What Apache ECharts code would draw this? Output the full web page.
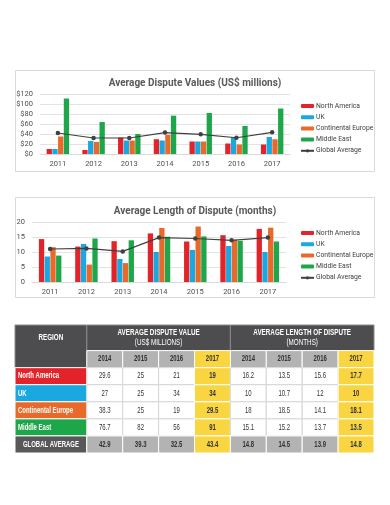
<!DOCTYPE html>
<html><head><meta charset="utf-8">
<script src="https://cdn.jsdelivr.net/npm/echarts@6/dist/echarts.min.js"></script>
<style>html,body{margin:0;padding:0;background:#fff;}#c{width:390px;height:505px;}</style>
</head><body><div id="c"></div>
<script>
// ---- data ----
const years = ['2011','2012','2013','2014','2015','2016','2017'];
const seriesNames = ['North America','UK','Continental Europe','Middle East','Global Average'];
// Average dispute value (US$ millions)
const valNA = [10, 8, 33, 29.6, 25, 21, 19];
const valUK = [10, 26, 27, 27, 25, 34, 34];
const valCE = [35, 24, 27, 38.3, 25, 19, 29.5];
const valME = [111, 64, 40, 76.7, 82, 56, 91];
const valGA = [42, 32, 32, 42.9, 39.3, 32.5, 43.4];
// Average length of dispute (months)
const lenNA = [14.3, 11.8, 13.6, 16.2, 13.5, 15.6, 17.7];
const lenUK = [8.5, 12.7, 7.7, 10, 10.7, 12, 10];
const lenCE = [11.6, 5.8, 6.3, 18, 18.5, 14.1, 18.1];
const lenME = [8.8, 14.5, 13.9, 15.1, 15.2, 13.7, 13.5];
const lenGA = [11, 11.2, 10.2, 14.8, 14.5, 13.9, 14.8];
// value axis ticks
const valTicks = [0, 20, 40, 60, 80, 100, 120];
const lenTicks = [0, 5, 10, 15, 20];
// table
const tableYears = ['2014','2015','2016','2017'];
const tableRegions = ['North America','UK','Continental Europe','Middle East'];
const tableHeader = ['REGION','AVERAGE DISPUTE VALUE','(US$ MILLIONS)','AVERAGE LENGTH OF DISPUTE','(MONTHS)'];
const globalLabel = 'GLOBAL AVERAGE';

// ---- styling ----
const colors = ['#e3232a','#1aa8e0','#e8692a','#1ea64a','#404040'];
const FONT = 'Roboto, "Liberation Sans", sans-serif';
const TFONT = '"Liberation Sans", Roboto, sans-serif';

function barSeries(name, data, gi, color){
  return {type:'bar', name, data, xAxisIndex:gi, yAxisIndex:gi, barWidth:5.3, barGap:'8%',
    itemStyle:{color}, emphasis:{disabled:true}};
}
function lineSeries(name, data, gi){
  return {type:'line', name, data, xAxisIndex:gi, yAxisIndex:gi, symbol:'circle', symbolSize:4.5,
    lineStyle:{color:'#404040', width:1.2}, itemStyle:{color:'#404040'}, z:5, emphasis:{disabled:true}};
}

// ---- table cells (built from the arrays) ----
// columns: region 0-2, value years 2-6, length years 6-10 ; rows: header 0-1.5, years 1.5-2.5, regions..., global
const cells = [];
function addCell(x0,x1,y0,y1,lines,fill,color,align,stroke,textY){
  cells.push({x0,x1,y0,y1,lines,fill,color,align:align||'center',stroke:stroke||'#ffffff',textY});
}
const dark = '#4d4d4f', gray = '#b3b3b3', yellow = '#f9d641';
const H = 8.5, HS = 0.74;  // header font size / x-scale
const B = 8.3, BS = 0.72;  // body font size / x-scale
addCell(0,2,0,2.5,[{t:tableHeader[0],b:true,s:H,k:HS}],dark,'#fff','center','#8a8a8c',0.75);
addCell(2,6,0,1.5,[{t:tableHeader[1],b:true,s:H,k:HS},{t:tableHeader[2],b:false,s:H,k:HS}],dark,'#fff','center','#8a8a8c');
addCell(6,10,0,1.5,[{t:tableHeader[3],b:true,s:H,k:HS},{t:tableHeader[4],b:false,s:H,k:HS}],dark,'#fff','center','#8a8a8c');
tableYears.forEach((y,i)=>{
  const last = i===tableYears.length-1;
  addCell(2+i,3+i,1.5,2.5,[{t:y,b:true,s:B,k:BS}],last?yellow:gray,'#333');
  addCell(6+i,7+i,1.5,2.5,[{t:y,b:true,s:B,k:BS}],last?yellow:gray,'#333');
});
const valRows = [valNA,valUK,valCE,valME];
const lenRows = [lenNA,lenUK,lenCE,lenME];
tableRegions.forEach((r,ri)=>{
  const y0 = 2.5+ri;
  addCell(0,2,y0,y0+1,[{t:r,b:true,s:B,k:BS}],colors[ri],'#fff','left');
  valRows[ri].slice(3).forEach((v,i)=>{
    const last = i===3;
    addCell(2+i,3+i,y0,y0+1,[{t:String(v),b:last,s:B,k:BS}],last?yellow:'#ffffff','#333','center',last?'#ffffff':'#d6d6d6');
  });
  lenRows[ri].slice(3).forEach((v,i)=>{
    const last = i===3;
    addCell(6+i,7+i,y0,y0+1,[{t:String(v),b:last,s:B,k:BS}],last?yellow:'#ffffff','#333','center',last?'#ffffff':'#d6d6d6');
  });
});
addCell(0,2,6.5,7.5,[{t:globalLabel,b:true,s:B,k:BS}],'#58585a','#fff','center');
valGA.slice(3).forEach((v,i)=>{
  const last=i===3; addCell(2+i,3+i,6.5,7.5,[{t:String(v),b:true,s:B,k:BS}],last?yellow:gray,'#333');
});
lenGA.slice(3).forEach((v,i)=>{
  const last=i===3; addCell(6+i,7+i,6.5,7.5,[{t:String(v),b:true,s:B,k:BS}],last?yellow:gray,'#333');
});

function renderCell(params, api){
  const c = cells[params.dataIndex];
  const p0 = api.coord([api.value(0), api.value(2)]);
  const p1 = api.coord([api.value(1), api.value(3)]);
  const x = Math.min(p0[0],p1[0]), y = Math.min(p0[1],p1[1]);
  const w = Math.abs(p1[0]-p0[0]), h = Math.abs(p1[1]-p0[1]);
  const children = [{type:'rect', shape:{x,y,width:w,height:h}, style:{fill:c.fill, stroke:c.stroke, lineWidth:1}}];
  const n = c.lines.length, lh = 9.5;
  let cy = y + h/2;
  if (c.textY != null) cy = api.coord([0, c.textY])[1];
  c.lines.forEach((ln,k)=>{
    const ty = cy + (k-(n-1)/2)*lh;
    const tx = c.align==='left' ? x+3 : x+w/2;
    children.push({type:'text', x:tx, y:ty, scaleX:ln.k, style:{text:ln.t, fill:c.color,
      font:(ln.b?'bold ':'')+ln.s+'px '+TFONT, align:c.align, verticalAlign:'middle',
      textAlign:c.align, textVerticalAlign:'middle'}});
  });
  return {type:'group', children};
}

const axisLabel = {fontSize:7.5, color:'#505050', fontFamily:FONT};
const legendCommon = {orient:'vertical', left:300, padding:0, itemWidth:13, itemHeight:4, itemGap:2.2,
  textStyle:{fontSize:6.8, color:'#404040', fontFamily:FONT, lineHeight:9, padding:[0,0,0,-3]},
  data:seriesNames, selectedMode:false};

const option = {
  animation:false,
  textStyle:{fontFamily:FONT},
  title:[
    {text:'Average Dispute Values (US$ millions)', left:'center', top:73,
      textStyle:{fontSize:10, fontWeight:'bold', color:'#595959', fontFamily:FONT}},
    {text:'Average Length of Dispute (months)', left:'center', top:201,
      textStyle:{fontSize:10, fontWeight:'bold', color:'#595959', fontFamily:FONT}}
  ],
  legend:[
    Object.assign({}, legendCommon, {top:101.5}),
    Object.assign({}, legendCommon, {top:228.5})
  ],
  graphic:[
    {type:'rect', shape:{x:15.5,y:70.5,width:359,height:101}, style:{fill:'none', stroke:'#d9d9d9', lineWidth:1}, silent:true, z:-1},
    {type:'rect', shape:{x:15.5,y:197.5,width:359,height:100}, style:{fill:'none', stroke:'#d9d9d9', lineWidth:1}, silent:true, z:-1}
  ],
  grid:[
    {left:40, width:250, top:94, height:60},
    {left:32, width:254, top:222, height:60},
    {left:15, width:359, top:325, height:128}
  ],
  xAxis:[
    {type:'category', data:years, gridIndex:0, axisTick:{show:false}, axisLine:{lineStyle:{color:'#d9d9d9'}}, axisLabel:Object.assign({margin:6},axisLabel)},
    {type:'category', data:years, gridIndex:1, axisTick:{show:false}, axisLine:{lineStyle:{color:'#d9d9d9'}}, axisLabel:Object.assign({margin:6},axisLabel)},
    {type:'value', gridIndex:2, min:0, max:10, show:false}
  ],
  yAxis:[
    {type:'value', gridIndex:0, min:valTicks[0], max:valTicks[valTicks.length-1], interval:valTicks[1]-valTicks[0],
      axisLabel:Object.assign({formatter:v=>'$'+v, margin:7},axisLabel), axisLine:{show:false}, axisTick:{show:false},
      splitLine:{lineStyle:{color:'#e3e3e3'}}},
    {type:'value', gridIndex:1, min:lenTicks[0], max:lenTicks[lenTicks.length-1], interval:lenTicks[1]-lenTicks[0],
      axisLabel:Object.assign({margin:7},axisLabel), axisLine:{show:false}, axisTick:{show:false},
      splitLine:{lineStyle:{color:'#e3e3e3'}}},
    {type:'value', gridIndex:2, min:0, max:7.5, inverse:true, show:false}
  ],
  series:[
    barSeries(seriesNames[0], valNA, 0, colors[0]),
    barSeries(seriesNames[1], valUK, 0, colors[1]),
    barSeries(seriesNames[2], valCE, 0, colors[2]),
    barSeries(seriesNames[3], valME, 0, colors[3]),
    lineSeries(seriesNames[4], valGA, 0),
    barSeries(seriesNames[0], lenNA, 1, colors[0]),
    barSeries(seriesNames[1], lenUK, 1, colors[1]),
    barSeries(seriesNames[2], lenCE, 1, colors[2]),
    barSeries(seriesNames[3], lenME, 1, colors[3]),
    lineSeries(seriesNames[4], lenGA, 1),
    {type:'custom', xAxisIndex:2, yAxisIndex:2, renderItem:renderCell, silent:true,
      data:cells.map(c=>[c.x0,c.x1,c.y0,c.y1]), encode:{x:[0,1], y:[2,3]}}
  ]
};
const chart = echarts.init(document.getElementById('c'), null, {renderer:'canvas'});
chart.setOption(option);
</script></body></html>
